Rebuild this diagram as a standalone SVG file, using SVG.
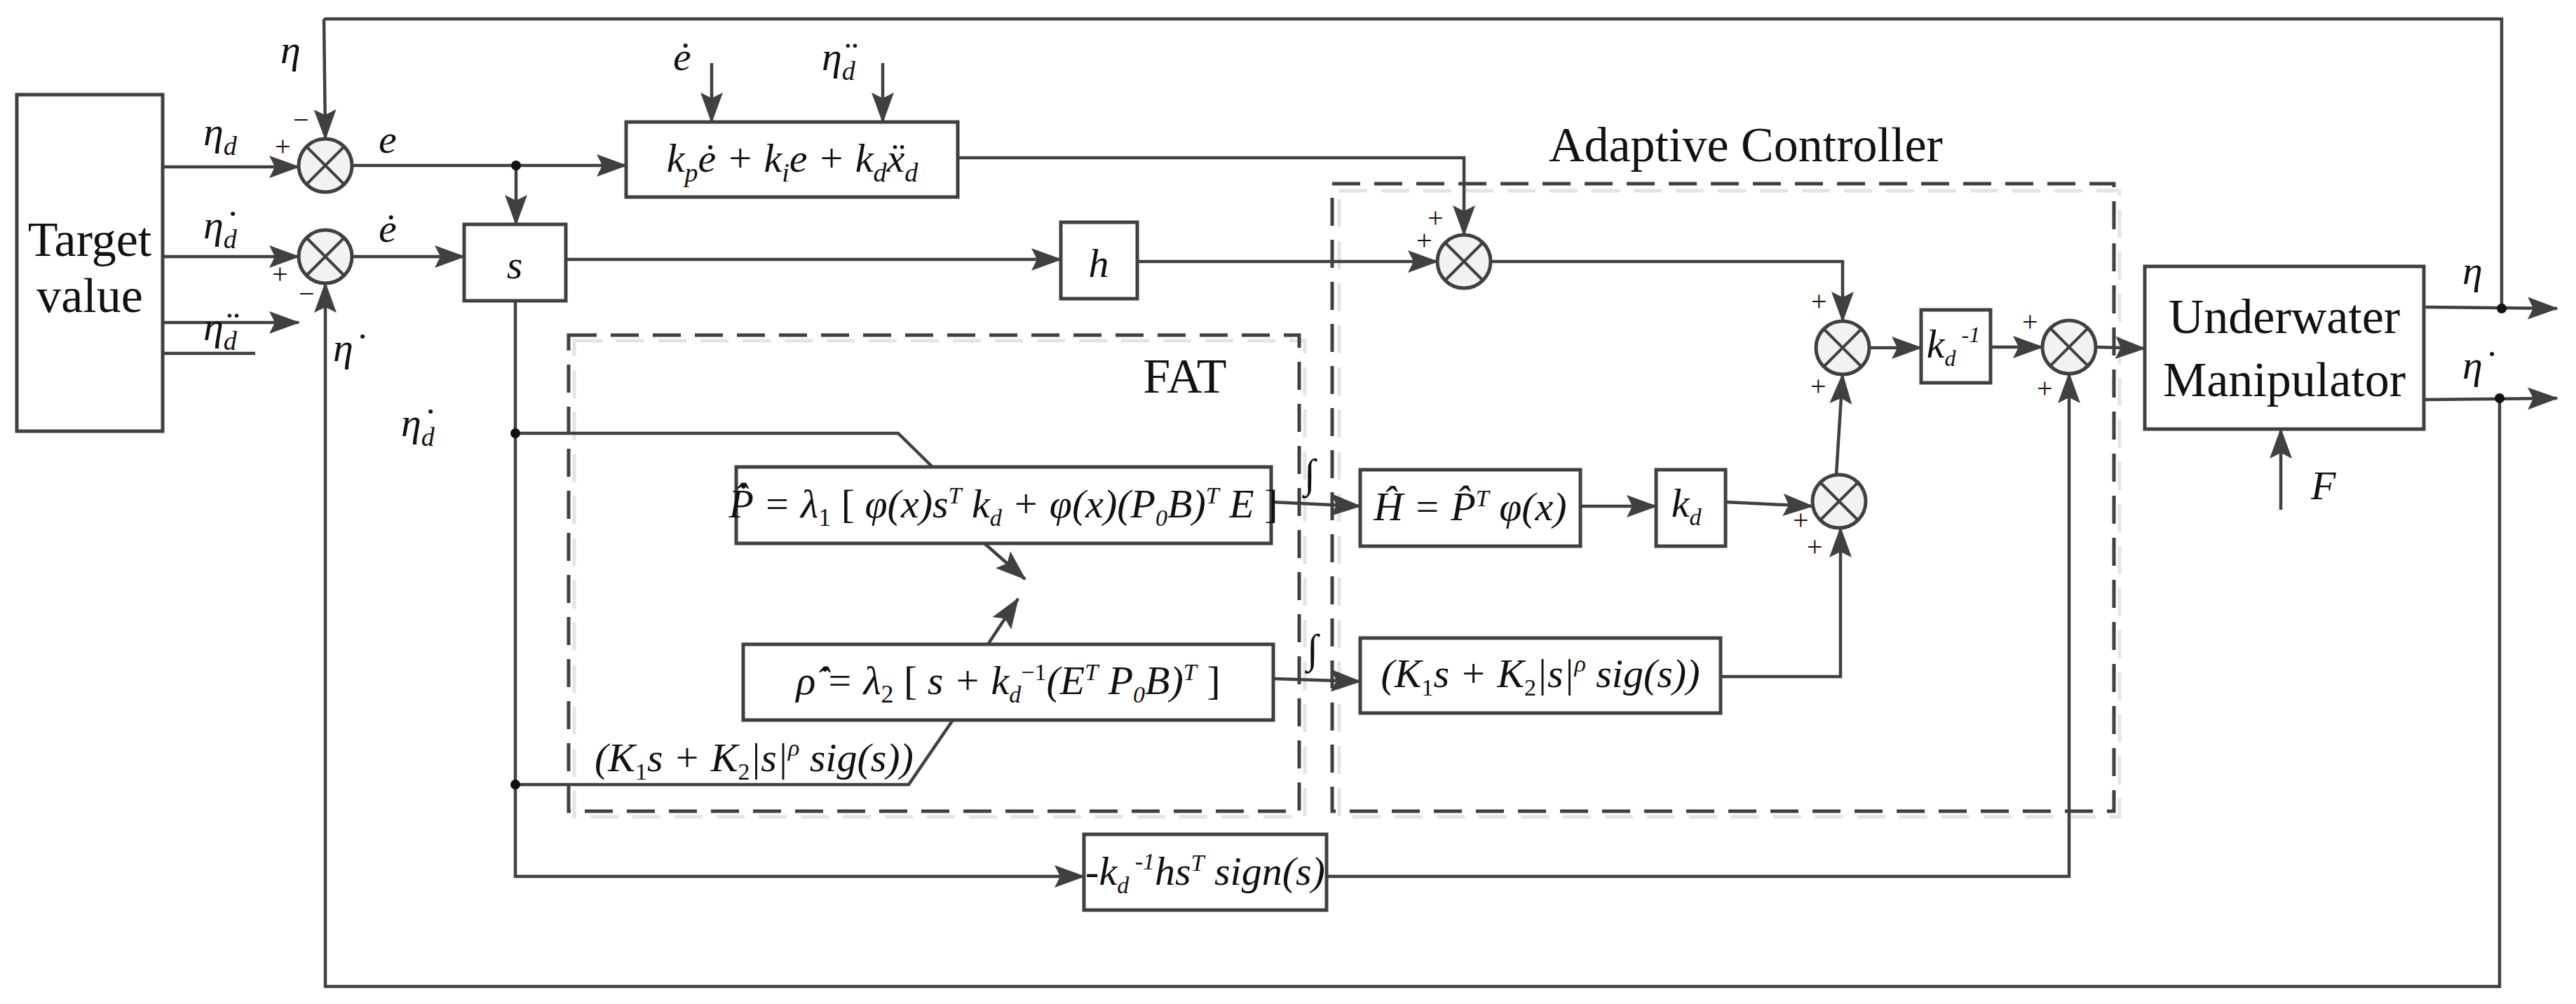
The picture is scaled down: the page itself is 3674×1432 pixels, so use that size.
<svg xmlns="http://www.w3.org/2000/svg" width="3674" height="1432" viewBox="0 0 3674 1432">
<style>
.ln{fill:none;stroke:#404040;stroke-width:4.5}
.bx{fill:#fff;stroke:#404040;stroke-width:5}
.sum{fill:#f2f2f2;stroke:#404040;stroke-width:5}
.x{stroke:#404040;stroke-width:4}
.dash{fill:none;stroke:#404040;stroke-width:5;stroke-dasharray:40 20}
.shd{fill:none;stroke:#e4e4e4;stroke-width:5;stroke-dasharray:40 20}
.m{font-family:"Liberation Serif",serif;font-style:italic;font-size:58px;fill:#111}
.t{font-family:"Liberation Serif",serif;font-size:70px;fill:#111}
.pm{font-family:"Liberation Serif",serif;font-size:40px;fill:#111}
.dot{fill:#111}
</style>
<defs>
<marker id="a" markerUnits="userSpaceOnUse" markerWidth="44" markerHeight="32" refX="42" refY="16" orient="auto"><path d="M0,0 L44,16 L0,32 L8,16 Z" fill="#404040"/></marker>
<symbol id="sx" overflow="visible"><circle r="38" class="sum"/><line x1="-27" y1="-27" x2="27" y2="27" class="x"/><line x1="27" y1="-27" x2="-27" y2="27" class="x"/></symbol>
</defs>

<g id="frames">
<rect x="819" y="486" width="1042" height="679" class="shd"/>
<rect x="811" y="478" width="1042" height="679" class="dash"/>
<rect x="1910" y="272" width="1113" height="893" class="shd"/>
<rect x="1900" y="262" width="1115" height="895" class="dash"/>
<text x="1690" y="560" class="t" text-anchor="middle" font-size="72">FAT</text>
<text x="2209" y="230" class="t" font-size="68">Adaptive Controller</text>
</g>

<g id="connectors">
<path class="ln" d="M462,27 L3568,27 L3568,440"/>
<path class="ln" d="M462,27 L464,198" marker-end="url(#a)"/>
<path class="ln" d="M232,460 L426,460" marker-end="url(#a)"/>
<path class="ln" d="M502,236 L893,236" marker-end="url(#a)"/>
<path class="ln" d="M232,238 L426,238" marker-end="url(#a)"/>
<path class="ln" d="M736,236 L736,320" marker-end="url(#a)"/>
<path class="ln" d="M1015,90 L1015,174" marker-end="url(#a)"/>
<path class="ln" d="M1259,90 L1259,174" marker-end="url(#a)"/>
<path class="ln" d="M232,366 L426,366" marker-end="url(#a)"/>
<path class="ln" d="M502,366 L662,366" marker-end="url(#a)"/>
<path class="ln" d="M232,504 L364,504"/>
<path class="ln" d="M807,370 L1513,370" marker-end="url(#a)"/>
<path class="ln" d="M1622,373 L2050,373" marker-end="url(#a)"/>
<path class="ln" d="M1366,225 L2088,225 L2088,335" marker-end="url(#a)"/>
<path class="ln" d="M2126,373 L2628,373 L2628,458" marker-end="url(#a)"/>
<path class="ln" d="M2666,496 L2740,496" marker-end="url(#a)"/>
<path class="ln" d="M2839,495 L2913,495" marker-end="url(#a)"/>
<path class="ln" d="M2989,495 L3059,497" marker-end="url(#a)"/>
<path class="ln" d="M3457,438 L3647,440" marker-end="url(#a)"/>
<path class="ln" d="M3457,570 L3647,568" marker-end="url(#a)"/>
<path class="ln" d="M3565,568 L3565,1407 L464,1407 L464,404" marker-end="url(#a)"/>
<path class="ln" d="M3253,727 L3253,612" marker-end="url(#a)"/>
<path class="ln" d="M735,429 L735,1250 L1546,1250" marker-end="url(#a)"/>
<path class="ln" d="M1892,1250 L2951,1250 L2951,533" marker-end="url(#a)"/>
<path class="ln" d="M735,618 L1281,618 L1330,666"/>
<path class="ln" d="M735,1119 L1296,1119 L1359,1027"/>
<path class="ln" d="M1404,775 L1462,826" marker-end="url(#a)"/>
<path class="ln" d="M1409,919 L1452,854" marker-end="url(#a)"/>
<path class="ln" d="M1813,716 L1940,722" marker-end="url(#a)"/>
<path class="ln" d="M1816,968 L1940,972" marker-end="url(#a)"/>
<path class="ln" d="M2254,722 L2362,722" marker-end="url(#a)"/>
<path class="ln" d="M2461,716 L2585,722" marker-end="url(#a)"/>
<path class="ln" d="M2619,677 L2628,534" marker-end="url(#a)"/>
<path class="ln" d="M2454,965 L2625,965 L2625,753" marker-end="url(#a)"/>
<circle cx="736" cy="236" r="7" class="dot"/>
<circle cx="735" cy="618" r="7" class="dot"/>
<circle cx="735" cy="1119" r="7" class="dot"/>
<circle cx="3568" cy="440" r="7" class="dot"/>
<circle cx="3565" cy="568" r="7" class="dot"/>
<text x="1860" y="695" class="m" font-size="60">∫</text>
<text x="1864" y="945" class="m" font-size="60">∫</text>
</g>

<g id="target"><rect x="24" y="135" width="208" height="480" class="bx"/>
<text x="128" y="365" class="t" text-anchor="middle">Target</text><text x="128" y="445" class="t" text-anchor="middle">value</text></g>

<g id="sum1"><use href="#sx" x="464" y="236"/><text x="418" y="184" class="pm">−</text><text x="392" y="222" class="pm">+</text></g>
<g id="sum2"><use href="#sx" x="464" y="366"/><text x="388" y="404" class="pm">+</text><text x="426" y="432" class="pm">−</text></g>
<g id="sum3"><use href="#sx" x="2088" y="373"/><text x="2036" y="324" class="pm">+</text><text x="2020" y="356" class="pm">+</text></g>
<g id="sum4"><use href="#sx" x="2628" y="496"/><text x="2583" y="443" class="pm">+</text><text x="2582" y="564" class="pm">+</text></g>
<g id="sum5"><use href="#sx" x="2951" y="495"/><text x="2884" y="472" class="pm">+</text><text x="2905" y="567" class="pm">+</text></g>
<g id="sum6"><use href="#sx" x="2623" y="715"/><text x="2557" y="755" class="pm">+</text><text x="2577" y="793" class="pm">+</text></g>

<g id="pid"><rect x="893" y="174" width="473" height="107" class="bx"/>
<text x="1130" y="245" class="m" text-anchor="middle">k<tspan dy="14" font-size="38">p</tspan><tspan dy="-14">ė + k</tspan><tspan dy="14" font-size="38">i</tspan><tspan dy="-14">e + k</tspan><tspan dy="14" font-size="38">d</tspan><tspan dy="-14">ẍ</tspan><tspan dy="14" font-size="38">d</tspan></text></g>

<g id="sbox"><rect x="662" y="320" width="145" height="109" class="bx"/><text x="734" y="397" class="m" font-size="76" text-anchor="middle">s</text></g>
<g id="hbox"><rect x="1513" y="317" width="109" height="109" class="bx"/><text x="1567" y="395" class="m" font-size="76" text-anchor="middle">h</text></g>

<g id="pbox"><rect x="1050" y="666" width="763" height="109" class="bx"/>
<text x="1431" y="738" class="m" font-size="54" text-anchor="middle">P̂̇ = λ<tspan dy="12" font-size="36" font-style="normal">1</tspan><tspan dy="-12" font-style="normal"> [ </tspan>φ(x)s<tspan dy="-20" font-size="34">T</tspan><tspan dy="20"> k</tspan><tspan dy="12" font-size="34">d</tspan><tspan dy="-12"> + φ(x)(P</tspan><tspan dy="12" font-size="34">0</tspan><tspan dy="-12">B)</tspan><tspan dy="-20" font-size="34">T</tspan><tspan dy="20"> E</tspan><tspan font-style="normal"> ]</tspan></text></g>

<g id="rhobox"><rect x="1060" y="919" width="756" height="108" class="bx"/>
<text x="1438" y="990" class="m" font-size="54" text-anchor="middle">ρ̂̇ = λ<tspan dy="12" font-size="36" font-style="normal">2</tspan><tspan dy="-12" font-style="normal"> [ </tspan>s + k<tspan dy="12" font-size="34">d</tspan><tspan dy="-32" font-size="34" font-style="normal">−1</tspan><tspan dy="20">(E</tspan><tspan dy="-20" font-size="34">T</tspan><tspan dy="20"> P</tspan><tspan dy="12" font-size="34">0</tspan><tspan dy="-12">B)</tspan><tspan dy="-20" font-size="34">T</tspan><tspan dy="20" font-style="normal"> ]</tspan></text></g>

<g id="hhat"><rect x="1940" y="670" width="314" height="109" class="bx"/>
<text x="2097" y="742" class="m" font-size="54" text-anchor="middle">Ĥ = P̂<tspan dy="-20" font-size="34">T</tspan><tspan dy="20"> φ(x)</tspan></text></g>

<g id="kd"><rect x="2362" y="670" width="99" height="109" class="bx"/>
<text x="2405" y="737" class="m" font-size="54" text-anchor="middle">k<tspan dy="12" font-size="34">d</tspan></text></g>

<g id="kbox"><rect x="1940" y="910" width="514" height="107" class="bx"/>
<text x="2197" y="980" class="m" font-size="54" text-anchor="middle">(K<tspan dy="12" font-size="34" font-style="normal">1</tspan><tspan dy="-12">s + K</tspan><tspan dy="12" font-size="34" font-style="normal">2</tspan><tspan dy="-12">|s|</tspan><tspan dy="-22" font-size="34">ρ</tspan><tspan dy="22"> sig(s))</tspan></text></g>

<g id="kdinv"><rect x="2740" y="442" width="99" height="104" class="bx"/>
<text x="2786" y="510" class="m" font-size="50" text-anchor="middle">k<tspan dy="12" font-size="32">d</tspan><tspan dy="-34" font-size="32"> -1</tspan></text></g>

<g id="sw"><rect x="1546" y="1190" width="346" height="108" class="bx"/>
<text x="1719" y="1262" class="m" font-size="54" text-anchor="middle">-k<tspan dy="12" font-size="34">d</tspan><tspan dy="-34" font-size="34"> -1</tspan><tspan dy="22">hs</tspan><tspan dy="-20" font-size="34">T</tspan><tspan dy="20"> sign(s)</tspan></text></g>

<g id="um"><rect x="3059" y="380" width="398" height="232" class="bx"/>
<text x="3258" y="475" class="t" text-anchor="middle">Underwater</text><text x="3258" y="565" class="t" text-anchor="middle">Manipulator</text></g>

<g id="labels">
<text x="400" y="90" class="m">η</text>
<text x="290" y="207" class="m">η<tspan dy="14" font-size="38">d</tspan></text>
<text x="290" y="340" class="m">η̇<tspan dy="14" font-size="38">d</tspan></text>
<text x="290" y="485" class="m">η̈<tspan dy="14" font-size="38">d</tspan></text>
<text x="540" y="218" class="m">e</text>
<text x="540" y="345" class="m">ė</text>
<text x="475" y="515" class="m">η̇</text>
<text x="572" y="622" class="m">η̇<tspan dy="14" font-size="38">d</tspan></text>
<text x="960" y="100" class="m">ė</text>
<text x="1172" y="100" class="m">η̈<tspan dy="14" font-size="38">d</tspan></text>
<text x="848" y="1100" class="m" font-size="52">(K<tspan dy="12" font-size="34" font-style="normal">1</tspan><tspan dy="-12">s + K</tspan><tspan dy="12" font-size="34" font-style="normal">2</tspan><tspan dy="-12">|s|</tspan><tspan dy="-22" font-size="34">ρ</tspan><tspan dy="22"> sig(s))</tspan></text>
<text x="3512" y="405" class="m">η</text>
<text x="3512" y="540" class="m">η̇</text>
<text x="3296" y="712" class="m" font-size="62">F</text>
</g>
</svg>
